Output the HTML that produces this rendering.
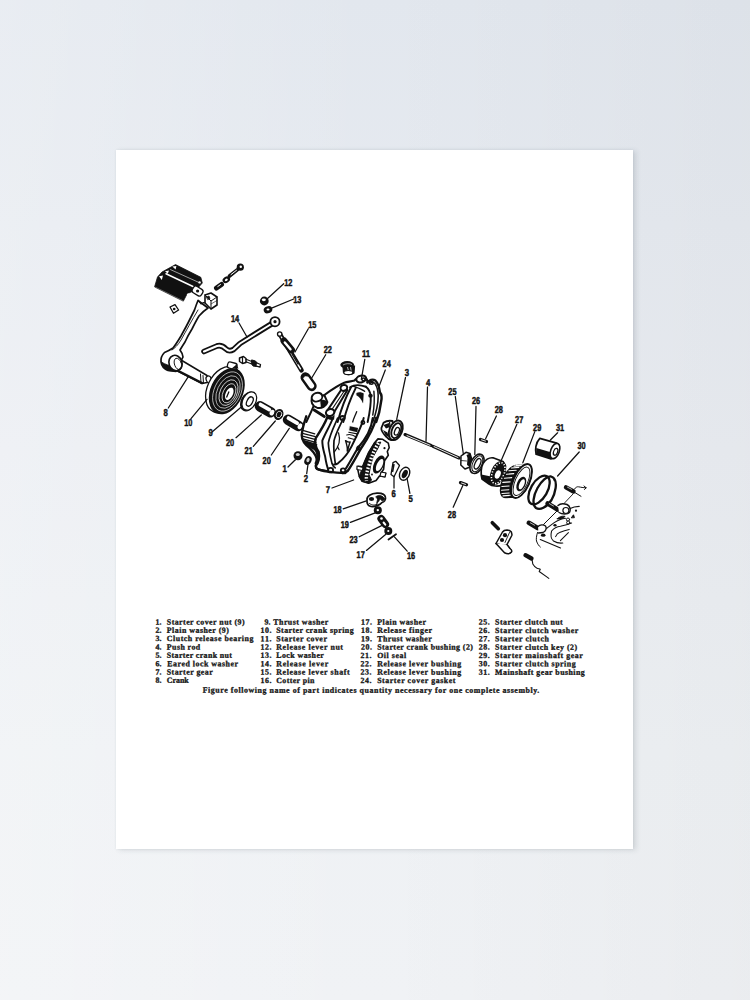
<!DOCTYPE html>
<html><head><meta charset="utf-8">
<style>
html,body{margin:0;padding:0;}
body{width:750px;height:1000px;overflow:hidden;position:relative;
background:linear-gradient(90deg,rgba(255,255,255,0.24) 0%,rgba(255,255,255,0) 50%,rgba(0,0,0,0) 50%,rgba(0,0,0,0.022) 100%),linear-gradient(180deg,rgb(226,231,238) 0%,rgb(234,237,242) 45%,rgb(238,241,244) 75%,rgb(240,242,245) 100%);
font-family:"Liberation Serif",serif;}
#poster{position:absolute;left:116px;top:150px;width:517px;height:699px;background:#fff;
box-shadow:3px 1px 5px rgba(70,80,95,0.16),0 0 2px rgba(90,100,115,0.10);}
#diag{position:absolute;left:0;top:0;}
</style></head>
<body>
<div id="poster"></div>
<svg id="diag" width="750" height="1000" viewBox="0 0 750 1000">
<g id="pedal" stroke-linejoin="round" stroke-linecap="round">
<path d="M154.7,286.5 L157.5,277 L162,272 L175.5,264.6 L200.8,277.3 L202.3,283 L197,289 L187,294 L183.5,300.8 Z" fill="#111" stroke="#111" stroke-width="0.8"/>
<path d="M166,273.8 L193,286.5" stroke="#fff" stroke-width="1.5" fill="none"/>
<path d="M170.5,269.6 L199,282.5" stroke="#fff" stroke-width="0.6" fill="none"/>
<path d="M159,276.3 L163,275.5 L161.8,280 Z M165,271.2 L169,270.5 L167.8,273.8 Z M172.4,266.6 L176.4,266 L175.6,269.5 Z" fill="#fff"/>
<circle cx="199.6" cy="282.4" r="1.2" fill="#fff"/>
<circle cx="188.5" cy="294.8" r="1.6" fill="#fff"/>
<rect x="192.3" y="287.3" width="10.5" height="7.4" rx="2.5" transform="rotate(32 197.5 291)" fill="#fff" stroke="#111" stroke-width="1.3"/>
<circle cx="197.6" cy="291" r="1.6" fill="#111"/>
</g>
<g id="crank" stroke="#111" stroke-linejoin="round" stroke-linecap="round">
<path d="M198,300.5 C196.5,304 195.5,307 194.5,310 C192,315 190,319 188,323 C185.5,328 183,332 181,336 C178,341 175.5,345 173,348 C170,350 167,351.5 164.5,352.5 C162,355 160.5,358 161,362 C161.5,366 164,369 168,370.5 L176,371.5 L183,357 C183,355 181.5,352 180,350 C181.5,347.5 183,345 185,342 C187,337.5 189.5,333 192,329 C194.5,324 196.5,320 199,316 C202,312.5 205,310 208,308 Z" fill="#fff" stroke-width="1.7"/>
<path d="M198,310 C192,320 186,331 181,340 C178,345 175,348 172,350" fill="none" stroke-width="0.9"/>
<path d="M161.5,362 C162,366 164,369 168,370.5 L176,371.5 L175,366 C170,366 165,364.5 161.5,362 Z" fill="#111" stroke-width="0.8"/>
<path d="M178.5,358.5 L207,375.5 C209,377 209.5,381 207,382.5 L202,383.5 L174.5,369.5 Z" fill="#fff" stroke-width="1.5"/>
<path d="M175.5,369.5 L202,383" fill="none" stroke-width="2.2"/>
<ellipse cx="175.5" cy="363" rx="6.5" ry="7.8" transform="rotate(-20 175.5 363)" fill="#fff" stroke-width="1.6"/>
<ellipse cx="178" cy="364" rx="3.5" ry="6" transform="rotate(-20 178 364)" fill="none" stroke-width="0.9"/>
<path d="M200.5,374 L201,383.2 M203,375.5 L203.5,383.5" fill="none" stroke-width="1"/>
<ellipse cx="208.8" cy="379.5" rx="2.6" ry="3.6" transform="rotate(-20 208.8 379.5)" fill="#fff" stroke-width="1.3"/>
<path d="M205,295 L211,293 L217,297 L217,305 L211,309 L205,303 Z" fill="#fff" stroke-width="1.6"/>
<path d="M205,295 L211,301 L217,297 M211,301 L211,309" fill="none" stroke-width="1"/>
<path d="M211,304 L217,300.5" fill="none" stroke-width="0.6"/>
<path d="M206.8,297 L209,296 L210,298.5 L208,299.5 Z" fill="#111" stroke-width="0.8"/>
<path d="M198.5,300.5 L201,304 L203.5,302.5 L205,303" fill="none" stroke-width="1.2"/>
<path d="M170,307 L175,304.6 L178.6,310 L173.5,313.2 Z" fill="#fff" stroke-width="1.3"/>
<circle cx="174.2" cy="309" r="1.3" fill="#111" stroke="none"/>
</g>
<g id="topbolt" stroke="#111" stroke-linecap="round">
<circle cx="240.3" cy="267.2" r="3.6" fill="#111" stroke="none"/>
<circle cx="240.8" cy="266.8" r="1.2" fill="#fff" stroke="none"/>
<path d="M237.5,269.6 L229.5,276" stroke-width="3.6" fill="none"/>
<path d="M236.5,270.3 L231,274.6" stroke="#fff" stroke-width="1" fill="none"/>
<ellipse cx="226.3" cy="279.8" rx="4" ry="3" transform="rotate(-35 226.3 279.8)" fill="#111" stroke="none"/>
<ellipse cx="226.3" cy="279.8" rx="1.6" ry="1.1" transform="rotate(-35 226.3 279.8)" fill="#fff" stroke="none"/>
<path d="M216.5,288 L221.5,284.5" stroke-width="5" fill="none"/>
<path d="M217.8,286.5 L220.5,284.6" stroke="#fff" stroke-width="1" fill="none"/>
</g>
<g id="nuts1213">
<circle cx="264.3" cy="301" r="4.4" fill="#111"/>
<ellipse cx="263.8" cy="299.8" rx="2" ry="1.4" fill="#fff"/>
<ellipse cx="268" cy="309.7" rx="4.4" ry="3.5" transform="rotate(-20 268 309.7)" fill="#111"/>
<ellipse cx="268" cy="309.5" rx="1.5" ry="1.1" fill="#fff"/>
</g>
<g id="lever14" fill="none" stroke-linecap="round" stroke-linejoin="round">
<path d="M273,323 L256,333.5 L240,343.5 L233.5,349.5 C231,351 228,351 226,349 C223,346 220,345 217,346 L204,351.5" stroke="#111" stroke-width="5.6"/>
<path d="M273,323 L256,333.5 L240,343.5 L233.5,349.5 C231,351 228,351 226,349 C223,346 220,345 217,346 L204,351.5" stroke="#fff" stroke-width="2"/>
<circle cx="275" cy="321.7" r="4.6" fill="#fff" stroke="#111" stroke-width="1.8"/>
<circle cx="275" cy="321.7" r="1.6" fill="#111"/>
</g>
<g id="bolt2" stroke="#111" stroke-linecap="round" stroke-linejoin="round">
<path d="M239.5,358 L243.5,356.5 L246,358.5 L246,362.5 L242.5,363.5 L239.5,361.5 Z" fill="#fff" stroke-width="1.5"/>
<path d="M242.5,357 L242.5,363" stroke-width="1.2"/>
<path d="M246,359.2 L252.5,361.8 M246,361.8 L252.3,364.3" stroke-width="1.1" fill="none"/>
<path d="M252,360 L255.5,361 L257.5,363.5 L256.5,366.5 L253,366 L251.5,363.5 Z" fill="#111" stroke-width="1"/>
<path d="M257,363 L260.5,364.5 L260,367 L256.5,366" fill="#fff" stroke-width="1.3"/>
</g>
<g id="spring10" stroke-linejoin="round">
<ellipse cx="223.6" cy="389.6" rx="16.3" ry="24.4" transform="rotate(25 223.6 389.6)" fill="#fff" stroke="#111" stroke-width="1.3"/>
<ellipse cx="226.8" cy="391.2" rx="16.3" ry="24.4" transform="rotate(25 226.8 391.2)" fill="#111"/>
<ellipse cx="227.5" cy="391.5" rx="13.3" ry="20.8" transform="rotate(25 227.5 391.5)" fill="none" stroke="#fff" stroke-width="0.6"/>
<ellipse cx="228" cy="392" rx="10.8" ry="17.2" transform="rotate(25 228 392)" fill="none" stroke="#fff" stroke-width="0.6"/>
<ellipse cx="228.5" cy="392.6" rx="8.4" ry="13.6" transform="rotate(25 228.5 392.6)" fill="none" stroke="#fff" stroke-width="0.7"/>
<ellipse cx="229" cy="393.3" rx="6" ry="10.2" transform="rotate(25 229 393.3)" fill="none" stroke="#fff" stroke-width="0.7"/>
<ellipse cx="229.3" cy="393.8" rx="3.6" ry="6.6" transform="rotate(25 229.3 393.8)" fill="#fff"/>
<path d="M226.5,397.5 L229,391.5 M230.5,387.5 L232.5,385" stroke="#111" stroke-width="1.3"/>
<rect x="227.5" y="362.5" width="9.5" height="6.3" rx="2.5" transform="rotate(15 232 365.5)" fill="#fff" stroke="#111" stroke-width="1.3"/>
<path d="M231,369 L236.5,364.5 L238.5,368.5 Z" fill="#111"/>
</g>
<g id="washer9">
<ellipse cx="248.3" cy="401.5" rx="7.5" ry="10.6" transform="rotate(28 248.3 401.5)" fill="#111"/>
<ellipse cx="249.3" cy="401" rx="6.5" ry="9.8" transform="rotate(28 249.3 401)" fill="#fff" stroke="#111" stroke-width="1.2"/>
<ellipse cx="249.8" cy="401.5" rx="2.8" ry="5" transform="rotate(28 249.8 401.5)" fill="#fff" stroke="#111" stroke-width="1.3"/>
</g>
<g id="bushings" stroke-linecap="round">
<path d="M260,406.3 L270.7,412.3" stroke="#111" stroke-width="10.5"/>
<path d="M260.5,404.6 L269.3,409.6" stroke="#fff" stroke-width="3.8"/>
<ellipse cx="272" cy="412.6" rx="2.2" ry="3" transform="rotate(28 272 412.6)" fill="#fff"/>
<ellipse cx="278.7" cy="414.5" rx="4.6" ry="5.7" transform="rotate(25 278.7 414.5)" fill="#111"/>
<ellipse cx="279" cy="414.5" rx="2.6" ry="3.4" transform="rotate(25 279 414.5)" fill="none" stroke="#fff" stroke-width="0.7"/>
<path d="M288,419.8 L298.5,426" stroke="#111" stroke-width="10.5"/>
<path d="M288.5,418.1 L297.1,423.2" stroke="#fff" stroke-width="3.8"/>
<ellipse cx="300" cy="426.3" rx="2.2" ry="3" transform="rotate(28 300 426.3)" fill="#fff"/>
</g>
<g id="nuts12b">
<circle cx="298" cy="455.7" r="4.5" fill="#111"/>
<ellipse cx="297.8" cy="454.5" rx="2" ry="1.6" fill="#fff" opacity="0.8"/>
<ellipse cx="308" cy="460.5" rx="3.4" ry="4.7" transform="rotate(25 308 460.5)" fill="#111"/>
<ellipse cx="308" cy="460" rx="1.5" ry="2.2" transform="rotate(25 308 460)" fill="#fff" opacity="0.8"/>
</g>
<g id="shaft15" stroke-linecap="round" fill="none">
<path d="M280,334.5 L301.5,370.3" stroke="#111" stroke-width="4.6"/>
<path d="M280.5,335.5 L300.5,368.8" stroke="#fff" stroke-width="1.4"/>
<path d="M284,341 L291.5,350" stroke="#111" stroke-width="7"/>
<path d="M284.8,342.5 L290.5,349.3" stroke="#fff" stroke-width="2.4"/>
<path d="M292,354 L298,364" stroke="#111" stroke-width="1.3"/>
<circle cx="279.7" cy="334" r="2.2" fill="#fff" stroke="#111" stroke-width="1.3"/>
</g>
<g id="bush22" stroke-linecap="round" fill="none">
<path d="M305.5,377.3 L311.7,386.2" stroke="#111" stroke-width="10"/>
<path d="M305.8,377.8 L311.5,385.8" stroke="#fff" stroke-width="5.2"/>
<path d="M303.5,377 C304,375.5 306,375 307.5,375.8" stroke="#111" stroke-width="1.5"/>
</g>
<g id="cap" stroke="#111">
<path d="M343,366 L343.5,372.5 C345,375 351,375.5 354,373 L354.5,366 Z" fill="#111" stroke-width="1.2"/>
<ellipse cx="347.2" cy="364.8" rx="6.9" ry="3.7" fill="#111" stroke="none"/>
<path d="M343,365 C345,363.5 350,363.2 352,364.5" stroke="#fff" stroke-width="0.6" fill="none"/>
<path d="M347.5,367 L348.5,371 M350.5,367 L351.2,371" stroke="#fff" stroke-width="0.7" fill="none"/>
<ellipse cx="348.3" cy="372.6" rx="4.5" ry="2.1" fill="#fff" stroke-width="1.2"/>
</g>
<g id="cover11" stroke="#111" stroke-linejoin="round" stroke-linecap="round" fill="none">
<path d="M315.2,392.8 C322,389 335,386 341.6,383.2 L350,380.8 C353,379 356,377.5 358,376.5 L363.2,375.5 C366,376 368,378.5 370,379 L373,378.5 C376,380 379,383 380,386 L381,394 L381.2,400 C380.5,408 379.5,414 378.8,418 L372.8,433.6 L363.2,451.6 L352.4,466 C349,469 346,470.8 344,470.8 L330.8,470.8 C326,470.5 322,470 320,469.6 C317,468.5 315.5,467 315.2,466 L316.4,460 L310.4,451.6 C306,447 303.5,444 303.2,442 L302,432.4 L306.8,424 L312.8,413.2 L311.6,403.6 Z" fill="#fff" stroke="none"/>
<g transform="translate(300,372) scale(0.113333)">
<path vector-effect="non-scaling-stroke" stroke-width="2.08" d="M120,300 C105,340 80,390 55,441"/>
<path vector-effect="non-scaling-stroke" stroke-width="2.86" d="M125,335 L215,392"/>
<path vector-effect="non-scaling-stroke" stroke-width="1.95" fill="#fff" d="M105,225 C95,265 108,300 150,315 C190,325 235,300 242,265 L215,205 Z"/>
<path fill="#111" d="M178,250 C205,238 228,248 242,265 C240,292 215,312 185,314 Z"/>
<ellipse vector-effect="non-scaling-stroke" stroke-width="1.95" fill="#fff" cx="150" cy="222" rx="48" ry="38" transform="rotate(-20 150 222)"/>
<path vector-effect="non-scaling-stroke" stroke-width="2.08" d="M212,205 C260,170 330,120 390,95 C420,85 450,85 480,75 C495,60 510,40 540,35 C570,35 590,55 595,85"/>
<ellipse vector-effect="non-scaling-stroke" stroke-width="2.08" fill="#fff" cx="540" cy="62" rx="44" ry="30" transform="rotate(-15 540 62)"/>
<ellipse vector-effect="non-scaling-stroke" stroke-width="1.56" cx="560" cy="65" rx="14" ry="12"/>
<path vector-effect="non-scaling-stroke" stroke-width="2.47" d="M595,92 C610,72 640,58 665,75 C690,100 700,140 705,180 C722,200 722,240 714,270 C707,330 692,390 672,441"/>
<path vector-effect="non-scaling-stroke" stroke-width="1.56" d="M612,102 C630,88 650,88 662,102 C680,130 690,170 690,210 C690,280 672,360 642,441"/>
<ellipse vector-effect="non-scaling-stroke" stroke-width="1.56" cx="630" cy="95" rx="16" ry="13"/>
<path vector-effect="non-scaling-stroke" stroke-width="1.95" d="M362,160 L238,345"/>
<path vector-effect="non-scaling-stroke" stroke-width="1.95" d="M417,160 L302,352"/>
<path vector-effect="non-scaling-stroke" stroke-width="1.04" d="M392,165 L272,345"/>
<ellipse vector-effect="non-scaling-stroke" stroke-width="1.95" fill="#fff" cx="387" cy="140" rx="30" ry="25" transform="rotate(-20 387 140)"/>
<path fill="#111" d="M360,150 C365,175 395,180 418,160 L420,150 C400,165 375,165 360,150 Z"/>
<path vector-effect="non-scaling-stroke" stroke-width="1.95" d="M452,130 C420,190 370,300 332,441"/>
<path vector-effect="non-scaling-stroke" stroke-width="1.95" d="M492,140 C462,200 412,320 382,441"/>
<path vector-effect="non-scaling-stroke" stroke-width="1.95" d="M442,135 C480,110 540,115 582,130"/>
<path vector-effect="non-scaling-stroke" stroke-width="1.43" d="M470,125 C510,140 545,150 570,170"/>
<ellipse vector-effect="non-scaling-stroke" stroke-width="1.82" fill="#fff" cx="375" cy="405" rx="20" ry="17"/>
<path fill="#111" d="M498,185 C520,172 548,178 562,190 L556,275 C542,240 522,215 498,205 Z"/>
<path vector-effect="non-scaling-stroke" stroke-width="1.95" d="M582,130 C607,150 622,180 624,215 C627,270 617,350 597,441"/>
<path vector-effect="non-scaling-stroke" stroke-width="1.43" d="M652,170 C657,220 657,300 642,380"/>
<ellipse vector-effect="non-scaling-stroke" stroke-width="1.56" cx="622" cy="210" rx="13" ry="11"/>
<ellipse vector-effect="non-scaling-stroke" stroke-width="2.08" fill="#fff" cx="266" cy="357" rx="38" ry="30" transform="rotate(-20 266 357)"/>
<path fill="#111" d="M232,372 C245,400 280,405 305,380 L300,420 C275,430 245,420 232,400 Z"/>
<path vector-effect="non-scaling-stroke" stroke-width="1.30" d="M500,350 C480,400 470,420 465,441"/>
</g>
<g transform="translate(300,418) scale(0.113333)">
<path vector-effect="non-scaling-stroke" stroke-width="2.34" d="M55,-15 C40,30 20,100 15,150 C15,200 50,240 90,270 C120,300 150,340 150,380 C140,410 130,430 150,450 C180,465 230,462 250,470"/>
<path vector-effect="non-scaling-stroke" stroke-width="1.30" d="M25,110 L130,140 M22,135 L135,165 M22,160 L140,190 M25,185 L140,215"/>
<path fill="#111" d="M18,190 C40,232 82,262 142,292 L152,232 C112,217 62,202 18,190 Z"/>
<path vector-effect="non-scaling-stroke" stroke-width="2.34" d="M238,0 C220,50 170,130 138,180 C128,220 145,270 165,300 C172,340 168,390 140,420 C140,440 155,455 175,458"/>
<path fill="#111" d="M138,180 C128,220 145,270 165,300 C172,340 168,390 140,420 L128,400 C150,360 150,320 130,290 C112,250 110,210 138,180 Z"/>
<path vector-effect="non-scaling-stroke" stroke-width="1.95" d="M290,0 C270,60 225,130 197,200 C195,250 212,300 222,340 C228,380 235,420 252,462"/>
<path vector-effect="non-scaling-stroke" stroke-width="1.69" d="M332,0 C310,60 272,120 250,220 C252,270 265,330 282,400 C290,420 300,435 310,440"/>
<path vector-effect="non-scaling-stroke" stroke-width="1.69" d="M382,0 C360,60 320,120 300,200 C295,260 300,330 312,405"/>
<path vector-effect="non-scaling-stroke" stroke-width="1.17" d="M340,130 C362,200 335,262 302,302 M330,250 L345,280"/>
<path vector-effect="non-scaling-stroke" stroke-width="1.43" d="M402,200 C412,232 422,262 417,292 M442,212 C432,242 422,262 422,292 M402,200 C415,210 430,215 442,212"/>
<path vector-effect="non-scaling-stroke" stroke-width="1.95" d="M562,0 C548,60 505,150 455,250 C425,310 385,360 335,400 C318,410 305,412 300,410"/>
<path fill="#111" d="M440,72 L512,88 L505,125 L435,108 Z"/>
<path vector-effect="non-scaling-stroke" stroke-width="1.04" d="M412,150 C440,140 470,150 500,170 M425,175 L480,190 M430,125 L505,140"/>
<path vector-effect="non-scaling-stroke" stroke-width="2.08" d="M642,0 C632,80 585,180 512,262 C482,310 452,370 402,450"/>
<path vector-effect="non-scaling-stroke" stroke-width="2.47" d="M672,0 C652,80 612,160 542,262 C502,330 462,410 422,465 C405,480 390,485 375,485"/>
<ellipse fill="#111" cx="512" cy="265" rx="16" ry="24" transform="rotate(25 512 265)"/>
<ellipse vector-effect="non-scaling-stroke" stroke-width="1.82" fill="#fff" cx="270" cy="460" rx="22" ry="20"/>
<ellipse vector-effect="non-scaling-stroke" stroke-width="1.82" fill="#fff" cx="380" cy="462" rx="20" ry="18"/>
<path vector-effect="non-scaling-stroke" stroke-width="2.21" d="M175,458 C215,472 300,482 400,486"/>
<ellipse vector-effect="non-scaling-stroke" stroke-width="1.69" cx="555" cy="40" rx="14" ry="14"/>
</g>
</g>
<g id="bearing3" stroke="#111" stroke-linejoin="round">
<path d="M383.5,422.8 C386,421 390,420.5 392.5,421 L395,438.5 C392,441.5 389,440 386.5,437 C383.5,434 381,430.5 381.4,428 Z" fill="#fff" stroke-width="1.8"/>
<path d="M383.5,425 L389,423 L390,427 L386,428.5 Z M383,430 L387.5,432.5 L389,437.5 L385.5,435 Z" fill="#111" stroke="none"/>
<path d="M389.5,422 L391.5,438" stroke-width="1.2" fill="none"/>
<ellipse cx="395.8" cy="430.3" rx="6.3" ry="10.2" transform="rotate(22 395.8 430.3)" fill="#fff" stroke-width="1.9"/>
<ellipse cx="396.3" cy="430.6" rx="4.4" ry="7.8" transform="rotate(22 396.3 430.6)" fill="none" stroke-width="1.8"/>
<ellipse cx="396.9" cy="431.3" rx="2.2" ry="4" transform="rotate(22 396.9 431.3)" fill="#fff" stroke-width="1.3"/>
</g>
<g id="pushrod4" stroke-linecap="round" fill="none">
<path d="M405,434.5 L431,445.4 M433,446.3 L459,458" stroke="#111" stroke-width="3.1"/>
<path d="M407,435.6 L430,445.3 M434,446.6 L458,457.5" stroke="#fff" stroke-width="0.9"/>
</g>
<g id="gear7" stroke="#111" stroke-linejoin="round">
<path d="M378,438.9 L382.7,439.3 L388.3,443.1 L389.2,447.7 L387.3,451.5 L388.3,455.2 L386.4,458 L384.5,460.8 L383.6,469.2 L381.5,472.5 L385.5,473.2 L384.8,476.7 L379.5,476 L376.1,480.4 L368.7,483.2 L362.1,481.3 L359.3,476.7 L358,470.5 L357.5,468.3 L358.4,466.2 L362.5,466.8 L365,460.8 L368.7,452.4 L374.3,443.1 Z" fill="#fff" stroke-width="1.6"/>
<path d="M374.3,443.1 L368.7,452.4 L365,460.8 L362.5,467 L359.3,476.7 L362.1,481.3 L368.7,483.2 L371.5,480 L369,474.8 L370.5,466 L373,457 L377.5,449 L380.8,442.1 Z" fill="#111" stroke-width="1"/>
<path d="M378.5,443 C374,450 371.5,457 369,465 C367,471 366,476 366.5,481" fill="none" stroke="#fff" stroke-width="3.4" stroke-dasharray="1.6 1.7"/>
<ellipse cx="378.9" cy="464.5" rx="5" ry="9.6" transform="rotate(25 378.9 464.5)" fill="#111" stroke="none"/>
<ellipse cx="379.6" cy="465" rx="2.8" ry="6.6" transform="rotate(25 379.6 465)" fill="#fff" stroke="none"/>
<circle cx="384.5" cy="448.2" r="1.1" fill="#111" stroke="none"/>
<circle cx="372" cy="474.5" r="0.9" fill="#111" stroke="none"/>
<path d="M357,466 L363,467.5 L362.5,470.5 L357,469.5 Z M381,472 L386,473 L385,477 L380,476 Z" fill="#fff" stroke-width="1.2"/>
</g>
<g id="washers56" stroke="#111" stroke-linejoin="round">
<path d="M391,474.5 L393,462.7 L395.7,461.3 L399.5,465.5 L394,476.7 Z" fill="#fff" stroke-width="1.3"/>
<path d="M392.5,472 L394,464" stroke-width="1.5"/>
<ellipse cx="404.6" cy="473.8" rx="4.8" ry="6.8" transform="rotate(25 404.6 473.8)" fill="#fff" stroke-width="1.4"/>
<ellipse cx="404.8" cy="474" rx="2.6" ry="4.5" transform="rotate(25 404.8 474)" fill="#111" stroke="none"/>
</g>
<g id="clutch" stroke="#111" stroke-linejoin="round" stroke-linecap="round">
<path d="M461,456 L466,452.3 L470,453.5 L472,460 L470,467 L465,469 L460.8,465 Z" fill="#fff" stroke-width="1.5"/>
<path d="M466.5,455 L470,453.5 L472,460 L470,467 L467,465 L467.5,458 Z" fill="#111" stroke="none"/>
<path d="M461,460.5 L466.5,461" stroke-width="0.8"/>
<ellipse cx="477" cy="463.8" rx="6.2" ry="10.3" transform="rotate(25 477 463.8)" fill="#fff" stroke-width="1.6"/>
<ellipse cx="477.3" cy="463.8" rx="4.6" ry="8.5" transform="rotate(25 477.3 463.8)" fill="none" stroke-width="1"/>
<ellipse cx="477.6" cy="463.8" rx="2.6" ry="5.6" transform="rotate(25 477.6 463.8)" fill="#fff" stroke-width="1.3"/>
<path d="M480.5,439.5 L486.5,441.5" stroke-width="3.3"/>
<path d="M481.5,439.8 L485.5,441.1" stroke="#fff" stroke-width="0.9"/>
<path d="M460.5,482.6 L466.5,484.8" stroke-width="3.3"/>
<path d="M461.5,483 L465.5,484.4" stroke="#fff" stroke-width="0.9"/>
</g>
<g id="clutch27" stroke="#111" stroke-linejoin="round">
<path d="M483,463.5 C486,459 490,457.5 493,457.8 L503,461.5 L505.5,466 L502,485 C498,487 492,486 489,484 L482,479 C480.5,474 481,467 483,463.5 Z" fill="#fff" stroke-width="1.7"/>
<path d="M481.3,474.5 L491,476.5 L494,485.8 L489,484 L482,479 Z" fill="#111" stroke="none"/>
<ellipse cx="498" cy="473" rx="7.3" ry="12.6" transform="rotate(22 498 473)" fill="#111" stroke="none"/>
<ellipse cx="498.2" cy="473.2" rx="5.8" ry="11" transform="rotate(22 498.2 473.2)" fill="none" stroke="#fff" stroke-width="1.6" stroke-dasharray="1.2 1.6"/>
<ellipse cx="497.8" cy="474.5" rx="2.7" ry="4.4" transform="rotate(22 497.8 474.5)" fill="#fff" stroke="none"/>
</g>
<g id="gear29" stroke="#111" stroke-linejoin="round">
<ellipse cx="510.50" cy="481.50" rx="8.6" ry="17.900000000000002" transform="rotate(24 510.50 481.50)" fill="#111" stroke="none"/>
<ellipse cx="511.88" cy="481.44" rx="8.6" ry="17.900000000000002" transform="rotate(24 511.88 481.44)" fill="#111" stroke="none"/>
<ellipse cx="513.25" cy="481.38" rx="8.6" ry="17.900000000000002" transform="rotate(24 513.25 481.38)" fill="#111" stroke="none"/>
<ellipse cx="514.62" cy="481.31" rx="8.6" ry="17.900000000000002" transform="rotate(24 514.62 481.31)" fill="#111" stroke="none"/>
<ellipse cx="516.00" cy="481.25" rx="8.6" ry="17.900000000000002" transform="rotate(24 516.00 481.25)" fill="#111" stroke="none"/>
<ellipse cx="517.38" cy="481.19" rx="8.6" ry="17.900000000000002" transform="rotate(24 517.38 481.19)" fill="#111" stroke="none"/>
<ellipse cx="518.75" cy="481.12" rx="8.6" ry="17.900000000000002" transform="rotate(24 518.75 481.12)" fill="#111" stroke="none"/>
<ellipse cx="520.12" cy="481.06" rx="8.6" ry="17.900000000000002" transform="rotate(24 520.12 481.06)" fill="#111" stroke="none"/>
<ellipse cx="521.50" cy="481.00" rx="8.6" ry="17.900000000000002" transform="rotate(24 521.50 481.00)" fill="#111" stroke="none"/>
<path d="M503.01,495.87 L510.31,495.32" stroke="#fff" stroke-width="1.1" stroke-linecap="round"/>
<path d="M501.95,493.51 L509.25,492.96" stroke="#fff" stroke-width="1.1" stroke-linecap="round"/>
<path d="M501.56,490.32 L508.86,489.77" stroke="#fff" stroke-width="1.1" stroke-linecap="round"/>
<path d="M501.85,486.53 L509.15,485.98" stroke="#fff" stroke-width="1.1" stroke-linecap="round"/>
<path d="M502.82,482.40 L510.12,481.85" stroke="#fff" stroke-width="1.1" stroke-linecap="round"/>
<path d="M504.39,478.20 L511.69,477.65" stroke="#fff" stroke-width="1.1" stroke-linecap="round"/>
<path d="M506.46,474.22 L513.76,473.67" stroke="#fff" stroke-width="1.1" stroke-linecap="round"/>
<path d="M508.89,470.73 L516.19,470.18" stroke="#fff" stroke-width="1.1" stroke-linecap="round"/>
<path d="M511.51,467.97 L518.81,467.42" stroke="#fff" stroke-width="1.1" stroke-linecap="round"/>
<path d="M514.14,466.14 L521.44,465.59" stroke="#fff" stroke-width="1.1" stroke-linecap="round"/>
<path d="M516.61,465.34 L523.91,464.79" stroke="#fff" stroke-width="1.1" stroke-linecap="round"/>
<ellipse cx="521.5" cy="481.00" rx="8.0" ry="18.3" transform="rotate(24 521.5 481.00)" fill="#fff" stroke="#111" stroke-width="1.9"/>
<ellipse cx="521.5" cy="481.30" rx="6.2" ry="15.3" transform="rotate(24 521.5 481.30)" fill="none" stroke="#111" stroke-width="0.9"/>
<ellipse cx="521.3" cy="484.00" rx="4.3" ry="7.6" transform="rotate(24 521.3 484.00)" fill="#111" stroke="none"/>
<ellipse cx="521.8" cy="484.30" rx="2.4" ry="5.4" transform="rotate(24 521.8 484.30)" fill="#fff" stroke="none"/>
</g>
<g id="bush31" stroke="#111" stroke-linejoin="round">
<path d="M539.8,438.4 L556.6,443.1 C560,446 559.5,455 551,458.9 L536.1,454.3 C535,450 535.5,443 539.8,438.4 Z" fill="#fff" stroke-width="1.7"/>
<path d="M536.3,448 L552.5,452.8 L551,458.9 L536.1,454.3 Z" fill="#111" stroke="none"/>
<ellipse cx="555" cy="451" rx="4.3" ry="8" transform="rotate(20 555 451)" fill="#fff" stroke-width="1.6"/>
<ellipse cx="555.6" cy="451.8" rx="2" ry="3.6" transform="rotate(20 555.6 451.8)" fill="#fff" stroke-width="1.2"/>
</g>
<g id="spring30" fill="none" stroke="#111" stroke-width="2.3">
<ellipse cx="539" cy="490" rx="8.3" ry="15.8" transform="rotate(30 539 490)"/>
<path d="M554.5,479 C557,483 556,492 551.5,500 C546.5,507.5 540,510.5 536,508 C532,505 533,496 537.5,488 C541.5,481 547,476 551,476.5 C553,477 554.5,478.5 555,481"/>
</g>
<g id="case" stroke="#111" fill="none" stroke-linecap="round" stroke-linejoin="round">
<path d="M566,487.3 L573.5,491.5" stroke-width="4.4"/>
<path d="M567.5,487.2 L571.5,489.3" stroke="#fff" stroke-width="0.7"/>
<path d="M574,492 L581,496.3" stroke-width="1"/>
<path d="M574.5,489 C575.5,487.5 577,486.5 578.5,486.8 C581,487.2 583,487.8 586.2,487.8 L584,486 M586.2,487.8 L584.5,489.5" stroke-width="1"/>
<path d="M573,494 L556.3,511.7" stroke-width="0.9"/>
<path d="M547.7,503.5 L557.5,509.5" stroke-width="4.6"/>
<path d="M549.3,503.6 L553.5,506" stroke="#fff" stroke-width="0.7"/>
<path d="M558,505.5 C560,503.5 564,503.5 567,504.5 C570,506 571,509.5 569.5,512.5 C567.5,514.5 562,514.5 559,512.5" fill="#fff" stroke-width="1.4"/>
<circle cx="565.9" cy="510.5" r="3" fill="#fff" stroke-width="1.2"/>
<path d="M570.1,508.5 C573,507 576,506.5 579.2,506.4" stroke-width="1.1"/>
<circle cx="576" cy="510.7" r="1.1" fill="#111" stroke="none"/>
<path d="M571.5,517.5 L573.5,514.8 L574.3,517.3 Z" fill="#111" stroke-width="1"/>
<path d="M557.3,518.8 C559,516.5 562.5,515.8 565,516.3 C564,518.5 560,519.8 557.3,518.8 Z" fill="#111" stroke-width="0.9"/>
<circle cx="568" cy="519.6" r="1.6" fill="#fff" stroke-width="1"/><circle cx="568.2" cy="522.6" r="1.6" fill="#fff" stroke-width="1"/>
<path d="M556.3,511.7 L543.5,524.5" stroke-width="1"/>
<path d="M546.5,528.5 C550,526 553,523 557,521 C560,519.5 563,518.5 565.5,518.3" stroke-width="1.1"/>
<path d="M551.6,531 C554,528 557,526.5 560.4,526.2 C564,525.5 568,524.5 571.6,523 M555.6,536.6 C556.5,534.5 558,533 559.6,532.6 C563,531 566,530 569.2,529.4 M560.4,540.6 L568.4,532.6 M551.6,531 C550.5,535 551,539 553.5,541 C556,542.5 559,543.5 562.8,543" stroke-width="1.05"/>
<ellipse cx="555" cy="525.3" rx="1.6" ry="1.3" fill="#111" stroke="none"/>
<path d="M528.8,522.8 L537.6,528" stroke-width="4.6"/>
<path d="M530.3,522.8 L534.5,525.2" stroke="#fff" stroke-width="0.7"/>
<path d="M538,526.5 C540,524.5 543.5,524.5 545.5,526 C547,528 546,531 543,532.5 L538.5,533" fill="#fff" stroke-width="1.3"/>
<path d="M537.5,532.5 C536.5,536 536,539 536.5,541 C537.5,544 539,546 540.3,547" stroke-width="1"/>
<path d="M540.3,539.5 L560.5,548" stroke-width="1.1"/>
<ellipse cx="543.2" cy="535.2" rx="2.3" ry="1.6" fill="#111" stroke="none"/>
<path d="M525.5,555.2 L531.5,558.5" stroke-width="4.3"/>
<path d="M531.7,557.6 C532,560 532.5,562 532.8,564 C534,566 535.5,567.8 537,568.3 C538.5,568.8 540,569 540.3,569.3 L539.2,571.5 C542,573.5 545.5,576 548.8,578.4" stroke-width="1.1"/>
<path d="M492.3,522.7 L498.3,528.7" stroke-width="3.6"/>
<path d="M496,543.5 L502.5,532 C503.5,530.5 505,530 507,530 L509.5,530.5 C511.5,531.5 512.2,533.5 511.8,535.5 L507,544.5 C505,545.5 500,545 496,543.5 Z" fill="#fff" stroke-width="1.5"/>
<path d="M496,543.5 L504.5,552.8 C507,554 510,554 511.5,552 C512,551 511.5,549.5 510,548.5 L507,544.5" fill="#fff" stroke-width="1.5"/>
<path d="M509.5,532.5 L505,542.5 M507,544.5 L510.5,549" stroke-width="0.9"/>
<circle cx="505" cy="535.2" r="2.1" fill="#111" stroke="none"/>
<circle cx="502" cy="540" r="2.1" fill="#111" stroke="none"/>
</g>
<g id="small" stroke="#111" stroke-linejoin="round" stroke-linecap="round">
<path d="M367,500 C366.5,496 371,493.5 377,493.2 C382,493 385,494.5 385.5,497.5 C386,500 384,502 382,502.5 C380,505 375,507 371,506.5 C368,506 366.8,503 367,500 Z" fill="#fff" stroke-width="1.7"/>
<ellipse cx="371.5" cy="499" rx="2.6" ry="1.9" fill="#111" stroke="none"/>
<path d="M376,496.5 C378,495 381,495.3 383,496.8 L385.3,499.3 L382.3,501 L380,498.8 L378.6,501.5 L376.6,503.5 L377.5,499.5 Z" fill="#111" stroke-width="0.8"/>
<path d="M369.5,503.5 C372,505.6 375.5,505.6 377.8,503.8" fill="none" stroke-width="1"/>
<circle cx="377.8" cy="510.3" r="4" fill="#111" stroke="none"/>
<circle cx="377.8" cy="510.1" r="1.2" fill="#fff" stroke="none"/>
<path d="M381.2,518.8 L385.3,524.2" stroke-width="7.6"/>
<circle cx="381.5" cy="518.5" r="1.3" fill="#fff" stroke="none"/>
<path d="M383.6,522.5 L385.3,524.6" stroke="#fff" stroke-width="2"/>
<circle cx="388.3" cy="531" r="4" fill="#111" stroke="none"/>
<circle cx="388.3" cy="531" r="1.1" fill="#fff" stroke="none"/>
<path d="M388.5,539.5 L396,534.3" stroke-width="1.8" fill="none"/>
</g>

<g id="labels" font-family="Liberation Sans, sans-serif" font-weight="bold" font-size="10" fill="#111" stroke="#111" stroke-width="0.45" text-anchor="middle" transform="rotate(0.03 370 420)">
<text x="288.3" y="285.6" textLength="8.2" lengthAdjust="spacingAndGlyphs">12</text>
<text x="297.3" y="302.6" textLength="8.2" lengthAdjust="spacingAndGlyphs">13</text>
<text x="235" y="322.3" textLength="8.2" lengthAdjust="spacingAndGlyphs">14</text>
<text x="312.3" y="328" textLength="8.2" lengthAdjust="spacingAndGlyphs">15</text>
<text x="327.7" y="353.3" textLength="8.2" lengthAdjust="spacingAndGlyphs">22</text>
<text x="366" y="357.5" textLength="8.2" lengthAdjust="spacingAndGlyphs">11</text>
<text x="386.7" y="366.6" textLength="8.2" lengthAdjust="spacingAndGlyphs">24</text>
<text x="407" y="376.3" textLength="4.3" lengthAdjust="spacingAndGlyphs">3</text>
<text x="428.2" y="385.9" textLength="4.3" lengthAdjust="spacingAndGlyphs">4</text>
<text x="452.4" y="394.7" textLength="8.2" lengthAdjust="spacingAndGlyphs">25</text>
<text x="476" y="403.7" textLength="8.2" lengthAdjust="spacingAndGlyphs">26</text>
<text x="498.8" y="413.3" textLength="8.2" lengthAdjust="spacingAndGlyphs">28</text>
<text x="519.2" y="422.9" textLength="8.2" lengthAdjust="spacingAndGlyphs">27</text>
<text x="537.2" y="431.3" textLength="8.2" lengthAdjust="spacingAndGlyphs">29</text>
<text x="560" y="431.3" textLength="8.2" lengthAdjust="spacingAndGlyphs">31</text>
<text x="581.6" y="449.3" textLength="8.2" lengthAdjust="spacingAndGlyphs">30</text>
<text x="452" y="517.7" textLength="8.2" lengthAdjust="spacingAndGlyphs">28</text>
<text x="165.7" y="416.6" textLength="4.3" lengthAdjust="spacingAndGlyphs">8</text>
<text x="188.3" y="426.6" textLength="8.2" lengthAdjust="spacingAndGlyphs">10</text>
<text x="210.7" y="436" textLength="4.3" lengthAdjust="spacingAndGlyphs">9</text>
<text x="230" y="445.6" textLength="8.2" lengthAdjust="spacingAndGlyphs">20</text>
<text x="248.7" y="454.3" textLength="8.2" lengthAdjust="spacingAndGlyphs">21</text>
<text x="266.7" y="463.6" textLength="8.2" lengthAdjust="spacingAndGlyphs">20</text>
<text x="284.7" y="472.3" textLength="4.3" lengthAdjust="spacingAndGlyphs">1</text>
<text x="306" y="482.3" textLength="4.3" lengthAdjust="spacingAndGlyphs">2</text>
<text x="328" y="492.9" textLength="4.3" lengthAdjust="spacingAndGlyphs">7</text>
<text x="393.7" y="496.6" textLength="4.3" lengthAdjust="spacingAndGlyphs">6</text>
<text x="410.6" y="501.8" textLength="4.3" lengthAdjust="spacingAndGlyphs">5</text>
<text x="337.6" y="512.9" textLength="8.2" lengthAdjust="spacingAndGlyphs">18</text>
<text x="344.8" y="528.1" textLength="8.2" lengthAdjust="spacingAndGlyphs">19</text>
<text x="353.6" y="543.3" textLength="8.2" lengthAdjust="spacingAndGlyphs">23</text>
<text x="360.8" y="557.7" textLength="8.2" lengthAdjust="spacingAndGlyphs">17</text>
<text x="411.2" y="558.5" textLength="8.2" lengthAdjust="spacingAndGlyphs">16</text>
</g>
<g id="leaders" fill="none" stroke="#111" stroke-width="1.25" stroke-linecap="round">
<path d="M283.7,283.7 L267,299"/>
<path d="M293.7,299 L271,308.3"/>
<path d="M239,323 L247,337"/>
<path d="M308.3,328.7 L295,352"/>
<path d="M325.7,354.7 L311.7,378"/>
<path d="M364.8,359.3 L361.3,379.3"/>
<path d="M385.3,370 L378.7,387.3"/>
<path d="M405.5,377.5 L396.7,419.3"/>
<path d="M427.5,387 L426,441.3"/>
<path d="M455.3,396.5 L463.4,454.5"/>
<path d="M476,406.4 L474.8,454.4"/>
<path d="M496.4,416 L485.6,438.8"/>
<path d="M516.8,424.4 L501.2,460.4"/>
<path d="M534.8,431.6 L522.8,462.8"/>
<path d="M557.6,432.8 L550.4,440"/>
<path d="M579.2,452 L557.6,476"/>
<path d="M453.2,507.2 L462.8,485.6"/>
<path d="M168.3,408 L188.3,376.7"/>
<path d="M191,418.7 L207,399.3"/>
<path d="M212.6,431.5 L241,407.3"/>
<path d="M236,437.7 L261.3,415"/>
<path d="M253.3,446.3 L275.3,421"/>
<path d="M271.3,455 L289.3,428.3"/>
<path d="M288,467 L295.3,459.7"/>
<path d="M306.7,473.7 L308,464.3"/>
<path d="M332,488 L353.6,480"/>
<path d="M394,488 L394,476.5"/>
<path d="M409.9,493.3 L407,478"/>
<path d="M343.2,508.8 L366.4,500.8"/>
<path d="M350.4,522.4 L375.2,512.8"/>
<path d="M359.2,536.8 L381.6,525.6"/>
<path d="M366.4,550.4 L385.6,534.4"/>
<path d="M407.2,551.2 L394.4,536.8"/>
</g>

<g font-family="Liberation Serif, serif" font-weight="bold" font-size="7.9" fill="#141414" stroke="#141414" stroke-width="0.3" text-rendering="geometricPrecision" transform="rotate(0.03 370 650)">
<text x="155.5" y="624.50" textLength="6.0" lengthAdjust="spacing">1.</text>
<text x="166.8" y="624.50" textLength="77.8" lengthAdjust="spacing">Starter cover nut (9)</text>
<text x="155.5" y="632.85" textLength="6.0" lengthAdjust="spacing">2.</text>
<text x="166.8" y="632.85" textLength="62.1" lengthAdjust="spacing">Plain washer (9)</text>
<text x="155.5" y="641.20" textLength="6.0" lengthAdjust="spacing">3.</text>
<text x="166.8" y="641.20" textLength="86.6" lengthAdjust="spacing">Clutch release bearing</text>
<text x="155.5" y="649.55" textLength="6.0" lengthAdjust="spacing">4.</text>
<text x="166.8" y="649.55" textLength="33.4" lengthAdjust="spacing">Push rod</text>
<text x="155.5" y="657.90" textLength="6.0" lengthAdjust="spacing">5.</text>
<text x="166.8" y="657.90" textLength="65.2" lengthAdjust="spacing">Starter crank nut</text>
<text x="155.5" y="666.25" textLength="6.0" lengthAdjust="spacing">6.</text>
<text x="167.3" y="666.25" textLength="70.7" lengthAdjust="spacing">Eared lock washer</text>
<text x="155.5" y="674.60" textLength="6.0" lengthAdjust="spacing">7.</text>
<text x="166.8" y="674.60" textLength="45.9" lengthAdjust="spacing">Starter gear</text>
<text x="155.5" y="682.95" textLength="6.0" lengthAdjust="spacing">8.</text>
<text x="166.8" y="682.95" textLength="21.9" lengthAdjust="spacing">Crank</text>
<text x="264.5" y="624.50" textLength="6.0" lengthAdjust="spacing">9.</text>
<text x="273.3" y="624.50" textLength="55.0" lengthAdjust="spacing">Thrust washer</text>
<text x="260.6" y="632.85" textLength="11.0" lengthAdjust="spacing">10.</text>
<text x="276.3" y="632.85" textLength="77.3" lengthAdjust="spacing">Starter crank spring</text>
<text x="260.6" y="641.20" textLength="11.0" lengthAdjust="spacing">11.</text>
<text x="276.3" y="641.20" textLength="50.6" lengthAdjust="spacing">Starter cover</text>
<text x="260.6" y="649.55" textLength="11.0" lengthAdjust="spacing">12.</text>
<text x="276.3" y="649.55" textLength="66.7" lengthAdjust="spacing">Release lever nut</text>
<text x="260.6" y="657.90" textLength="11.0" lengthAdjust="spacing">13.</text>
<text x="276.3" y="657.90" textLength="47.6" lengthAdjust="spacing">Lock washer</text>
<text x="260.6" y="666.25" textLength="11.0" lengthAdjust="spacing">14.</text>
<text x="276.3" y="666.25" textLength="52.0" lengthAdjust="spacing">Release lever</text>
<text x="260.6" y="674.60" textLength="11.0" lengthAdjust="spacing">15.</text>
<text x="276.3" y="674.60" textLength="73.3" lengthAdjust="spacing">Release lever shaft</text>
<text x="260.6" y="682.95" textLength="11.0" lengthAdjust="spacing">16.</text>
<text x="276.3" y="682.95" textLength="38.1" lengthAdjust="spacing">Cotter pin</text>
<text x="361.0" y="624.50" textLength="11.0" lengthAdjust="spacing">17.</text>
<text x="377.2" y="624.50" textLength="48.8" lengthAdjust="spacing">Plain washer</text>
<text x="361.0" y="632.85" textLength="11.0" lengthAdjust="spacing">18.</text>
<text x="377.2" y="632.85" textLength="54.9" lengthAdjust="spacing">Release finger</text>
<text x="361.0" y="641.20" textLength="11.0" lengthAdjust="spacing">19.</text>
<text x="377.2" y="641.20" textLength="54.6" lengthAdjust="spacing">Thrust washer</text>
<text x="361.0" y="649.55" textLength="11.0" lengthAdjust="spacing">20.</text>
<text x="377.2" y="649.55" textLength="95.7" lengthAdjust="spacing">Starter crank bushing (2)</text>
<text x="360.6" y="657.90" textLength="11.0" lengthAdjust="spacing">21.</text>
<text x="377.2" y="657.90" textLength="28.9" lengthAdjust="spacing">Oil seal</text>
<text x="360.6" y="666.25" textLength="11.0" lengthAdjust="spacing">22.</text>
<text x="377.2" y="666.25" textLength="83.9" lengthAdjust="spacing">Release lever bushing</text>
<text x="360.6" y="674.60" textLength="11.0" lengthAdjust="spacing">23.</text>
<text x="377.2" y="674.60" textLength="83.9" lengthAdjust="spacing">Release lever bushing</text>
<text x="360.6" y="682.95" textLength="11.0" lengthAdjust="spacing">24.</text>
<text x="377.2" y="682.95" textLength="78.3" lengthAdjust="spacing">Starter cover gasket</text>
<text x="478.7" y="624.50" textLength="11.0" lengthAdjust="spacing">25.</text>
<text x="495.1" y="624.50" textLength="67.6" lengthAdjust="spacing">Starter clutch nut</text>
<text x="478.7" y="632.85" textLength="11.0" lengthAdjust="spacing">26.</text>
<text x="495.1" y="632.85" textLength="83.2" lengthAdjust="spacing">Starter clutch washer</text>
<text x="478.7" y="641.20" textLength="11.0" lengthAdjust="spacing">27.</text>
<text x="495.1" y="641.20" textLength="53.8" lengthAdjust="spacing">Starter clutch</text>
<text x="478.7" y="649.55" textLength="11.0" lengthAdjust="spacing">28.</text>
<text x="495.1" y="649.55" textLength="82.0" lengthAdjust="spacing">Starter clutch key (2)</text>
<text x="478.7" y="657.90" textLength="11.0" lengthAdjust="spacing">29.</text>
<text x="495.1" y="657.90" textLength="87.6" lengthAdjust="spacing">Starter mainshaft gear</text>
<text x="478.7" y="666.25" textLength="11.0" lengthAdjust="spacing">30.</text>
<text x="495.1" y="666.25" textLength="80.6" lengthAdjust="spacing">Starter clutch spring</text>
<text x="478.7" y="674.60" textLength="11.0" lengthAdjust="spacing">31.</text>
<text x="495.1" y="674.60" textLength="89.7" lengthAdjust="spacing">Mainshaft gear bushing</text>
<text x="202.7" y="692.7" textLength="336.6" lengthAdjust="spacing">Figure following name of part indicates quantity necessary for one complete assembly.</text>
</g>
</svg>
</body></html>
